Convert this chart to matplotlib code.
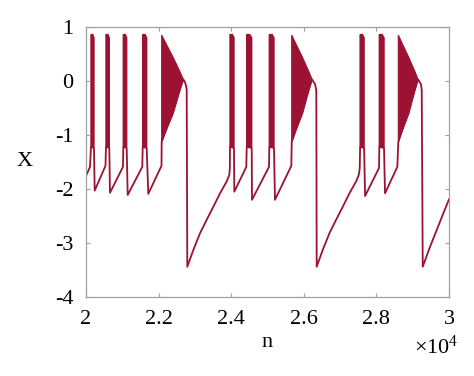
import matplotlib
matplotlib.use("Agg")
import matplotlib.pyplot as plt
import numpy as np

plt.rcParams['font.family'] = ['Liberation Serif', 'DejaVu Serif']
plt.rcParams['mathtext.fontset'] = 'custom'
plt.rcParams['mathtext.rm'] = 'Liberation Serif'

# slow trace between bursts (n, X)
trace_n = [20000, 20110, 20138, 20220, 20240, 20537, 20551, 20642, 20661, 21019,
           21028, 21121, 21149, 21551, 21562, 21672, 21716, 22080, 22085, 22680,
           22727, 22763, 22774, 22791, 22956, 23141, 23325, 23507, 23692, 23876,
           23948, 23962, 23967,
           24077, 24085, 24416, 24427, 24565, 24573, 25041, 25050, 25179, 25206,
           25656, 25667, 26226, 26309, 26344, 26355, 26520, 26705, 26890, 27072,
           27257, 27441, 27513, 27540, 27551, 27661, 27688, 28072, 28080, 28210,
           28237, 28576, 28603, 29146, 29229, 29248, 29276, 29477, 29661, 29843,
           30000]
trace_x = [-1.76, -1.59, -1.22, -1.24, -2.03, -1.57, -1.22, -1.24, -2.07, -1.59,
           -1.22, -1.24, -2.11, -1.59, -1.22, -1.24, -2.09, -1.57, -1.13, 0.03,
           -0.02, -0.11, -0.17, -3.44, -3.13, -2.82, -2.57, -2.33, -2.08, -1.86,
           -1.74, -1.62, -1.22,
           -1.24, -2.05, -1.59, -1.22, -1.24, -2.20, -1.59, -1.22, -1.24, -2.20,
           -1.57, -1.13, 0.03, -0.06, -0.17, -3.44, -3.13, -2.82, -2.57, -2.33,
           -2.08, -1.86, -1.74, -1.62, -1.22, -1.24, -2.13, -1.61, -1.22, -1.24,
           -2.08, -1.59, -1.13, 0.03, -0.06, -0.17, -3.44, -3.07, -2.76, -2.45,
           -2.19]

# short bursts: start / end of spiking
short_start = [20138, 20551, 21028, 21562, 23967, 24427, 25050, 27551, 28080]
short_end = [20220, 20642, 21121, 21672, 24077, 24565, 25179, 27661, 28210]
short_low = -1.22
short_top = [0.86, 0.86, 0.80]
short_frac = [0.0, 0.6, 1.0]

# long bursts: start of spiking and point where oscillation collapses
long_start = [22085, 25667, 28603]
long_apex = [22680, 26226, 29146]
long_frac = [0.0, 0.23, 0.54, 0.85, 1.0]
long_upper = [0.85, 0.67, 0.43, 0.17, 0.03]
long_lower = [-1.13, -0.90, -0.60, -0.17, 0.03]

xticks = [20000, 22000, 24000, 26000, 28000, 30000]
xticklabels = ['2', '2.2', '2.4', '2.6', '2.8', '3']
yticks = [-4, -3, -2, -1, 0, 1]

color = '#9b1232'

fig = plt.figure(figsize=(4.74, 3.76), dpi=100)
ax = fig.add_axes([0.1814, 0.2101, 0.7659, 0.7181])

ax.plot(trace_n, trace_x, color=color, lw=1.3, solid_joinstyle='round')

for s, e in zip(short_start, short_end):
    n = [s + f * (e - s) for f in short_frac]
    poly_n = [s] + n + [e]
    poly_x = [short_low] + short_top + [short_low]
    ax.fill(poly_n, poly_x, facecolor=color, edgecolor=color, lw=1.0)

for s, a in zip(long_start, long_apex):
    n = [s + f * (a - s) for f in long_frac]
    poly_n = n + n[::-1]
    poly_x = long_upper + long_lower[::-1]
    ax.fill(poly_n, poly_x, facecolor=color, edgecolor=color, lw=0.8)

ax.set_xlim(20000, 30000)
ax.set_ylim(-4, 1)
ax.set_xticks(xticks)
ax.set_xticklabels(xticklabels)
ax.set_yticks(yticks)
ax.set_yticklabels([str(v) for v in yticks])

for sp in ax.spines.values():
    sp.set_color('#a0a0a0')
    sp.set_linewidth(0.9)
ax.tick_params(direction='in', length=3, width=0.8, color='#a0a0a0',
               top=True, right=True, labelsize=16, pad=9)

ax.set_xlabel('n', fontsize=16)
ax.xaxis.set_label_coords(0.5, -0.17)
ax.xaxis.label.set_va('center')
ax.set_ylabel('X', fontsize=16, rotation=0)
ax.yaxis.set_label_coords(-0.168, 0.5)
ax.yaxis.label.set_va('center')
ax.yaxis.label.set_ha('center')

ax.text(1.025, -0.185, r'$\mathregular{\times10^{4}}$', transform=ax.transAxes,
        ha='right', va='center', fontsize=16)

fig.savefig('out.png', dpi=100)
